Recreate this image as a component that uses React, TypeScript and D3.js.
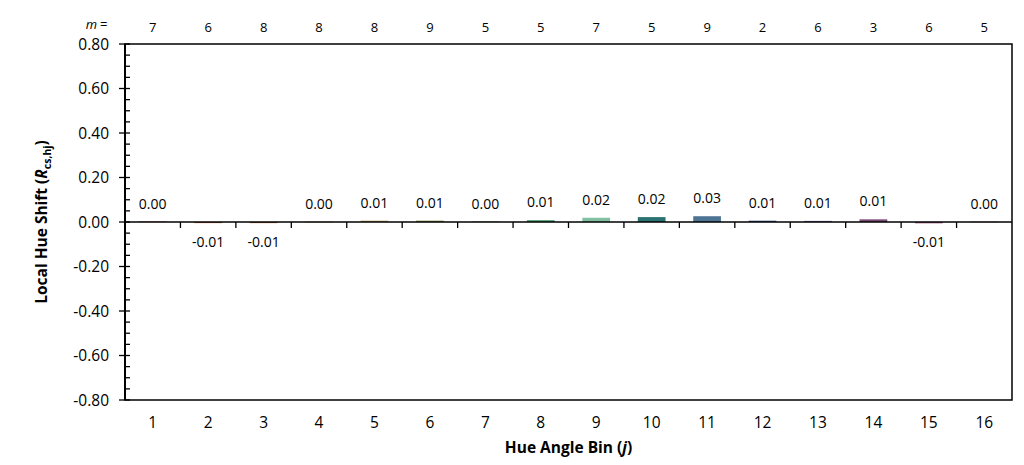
import React from "react";
import * as d3 from "d3";

const bins = ["1", "2", "3", "4", "5", "6", "7", "8", "9", "10", "11", "12", "13", "14", "15", "16"];
const shifts = [0.002, -0.005, -0.005, 0.001, 0.006, 0.006, 0.002, 0.008, 0.019, 0.022, 0.026, 0.006, 0.005, 0.012, -0.006, 0.001];
const shiftLabels = ["0.00", "-0.01", "-0.01", "0.00", "0.01", "0.01", "0.00", "0.01", "0.02", "0.02", "0.03", "0.01", "0.01", "0.01", "-0.01", "0.00"];
const counts = [7, 6, 8, 8, 8, 9, 5, 5, 7, 5, 9, 2, 6, 3, 6, 5];
const binColors = [
  "#c04a44", "#b65a4c", "#a85a2c", "#a0782c", "#b8a060", "#788a3c", "#4a9050", "#3a9060",
  "#80c0a0", "#2a7272", "#4e7494", "#3a5a90", "#6a6a9a", "#7a4a74", "#9c5478", "#b05a78",
];
const yTicks = [-0.8, -0.6, -0.4, -0.2, 0, 0.2, 0.4, 0.6, 0.8];

const W = 1024;
const H = 465;
const M = { left: 125, right: 1012, top: 44, bottom: 400 };
const font = "'Open Sans', 'Noto Sans', sans-serif";

export default function App() {
  const x = d3.scaleBand<string>().domain(bins).range([M.left, M.right]).paddingInner(0.5).paddingOuter(0.25);
  const step = (M.right - M.left) / bins.length;
  const y = d3.scaleLinear().domain([-0.8, 0.8]).range([M.bottom, M.top]);
  const minor = d3.range(-0.8, 0.8001, 0.05).filter((v) => Math.abs(Math.round(v * 5) - v * 5) > 0.01);
  const cx = (b: string) => (x(b) ?? 0) + x.bandwidth() / 2;

  return (
    <svg width={W} height={H} style={{ position: "absolute", left: 0, top: 0, background: "#fff" }}>
      {/* bars */}
      {bins.map((b, i) => {
        const y0 = y(0);
        const y1 = y(shifts[i]);
        return (
          <rect
            key={b}
            x={x(b)}
            y={Math.min(y0, y1)}
            width={x.bandwidth()}
            height={Math.max(Math.abs(y1 - y0), 0.5)}
            fill={binColors[i]}
          />
        );
      })}

      {/* frame */}
      <rect x={M.left} y={M.top} width={M.right - M.left} height={M.bottom - M.top} fill="none" stroke="#000" strokeWidth={1.5} />
      <line x1={M.left} x2={M.left} y1={M.top} y2={M.bottom} stroke="#000" strokeWidth={2} />

      {/* zero line with category ticks */}
      <line x1={M.left} x2={M.right} y1={y(0)} y2={y(0)} stroke="#000" strokeWidth={1.3} />
      {d3.range(1, bins.length).map((k) => (
        <line key={k} x1={M.left + k * step} x2={M.left + k * step} y1={y(0)} y2={y(0) + 6} stroke="#000" strokeWidth={1.3} />
      ))}

      {/* y ticks */}
      {yTicks.map((t) => (
        <g key={t}>
          <line x1={M.left - 6} x2={M.left + 5} y1={y(t)} y2={y(t)} stroke="#000" strokeWidth={1.3} />
          <text x={M.left - 16} y={y(t)} dy="0.36em" textAnchor="end" fontFamily={font} fontSize={15.5}>
            {t.toFixed(2)}
          </text>
        </g>
      ))}
      {minor.map((t, i) => (
        <line key={i} x1={M.left} x2={M.left + 5} y1={y(t)} y2={y(t)} stroke="#000" strokeWidth={1.3} />
      ))}

      {/* value labels */}
      {bins.map((b, i) => {
        const v = shifts[i];
        const ly = v >= 0 ? y(v) - 13 : y(v) + 24;
        return (
          <text key={b} x={cx(b)} y={ly} textAnchor="middle" fontFamily={font} fontSize={14}>
            {shiftLabels[i]}
          </text>
        );
      })}

      {/* x tick labels */}
      {bins.map((b) => (
        <text key={b} x={cx(b)} y={428} textAnchor="middle" fontFamily={font} fontSize={15.5}>
          {b}
        </text>
      ))}

      {/* m counts */}
      <text x={97} y={29} textAnchor="end" fontFamily={font} fontSize={13} fontStyle="italic">
        m
      </text>
      <text x={100} y={29} textAnchor="start" fontFamily={font} fontSize={13}>
        =
      </text>
      {bins.map((b, i) => (
        <text key={b} x={cx(b)} y={32} textAnchor="middle" fontFamily={font} fontSize={13}>
          {counts[i]}
        </text>
      ))}

      {/* axis titles */}
      <text x={(M.left + M.right) / 2} y={453} textAnchor="middle" fontFamily={font} fontSize={15.5} fontWeight="bold">
        Hue Angle Bin (<tspan fontStyle="italic">j</tspan>)
      </text>
      <text
        transform={`translate(47,${(M.top + M.bottom) / 2}) rotate(-90)`}
        textAnchor="middle"
        fontFamily={font}
        fontSize={15.5}
        fontWeight="bold"
      >
        Local Hue Shift (<tspan fontStyle="italic">R</tspan>
        <tspan fontSize={10.5} dy={4}>cs,hj</tspan>
        <tspan dy={-4}>)</tspan>
      </text>
    </svg>
  );
}
